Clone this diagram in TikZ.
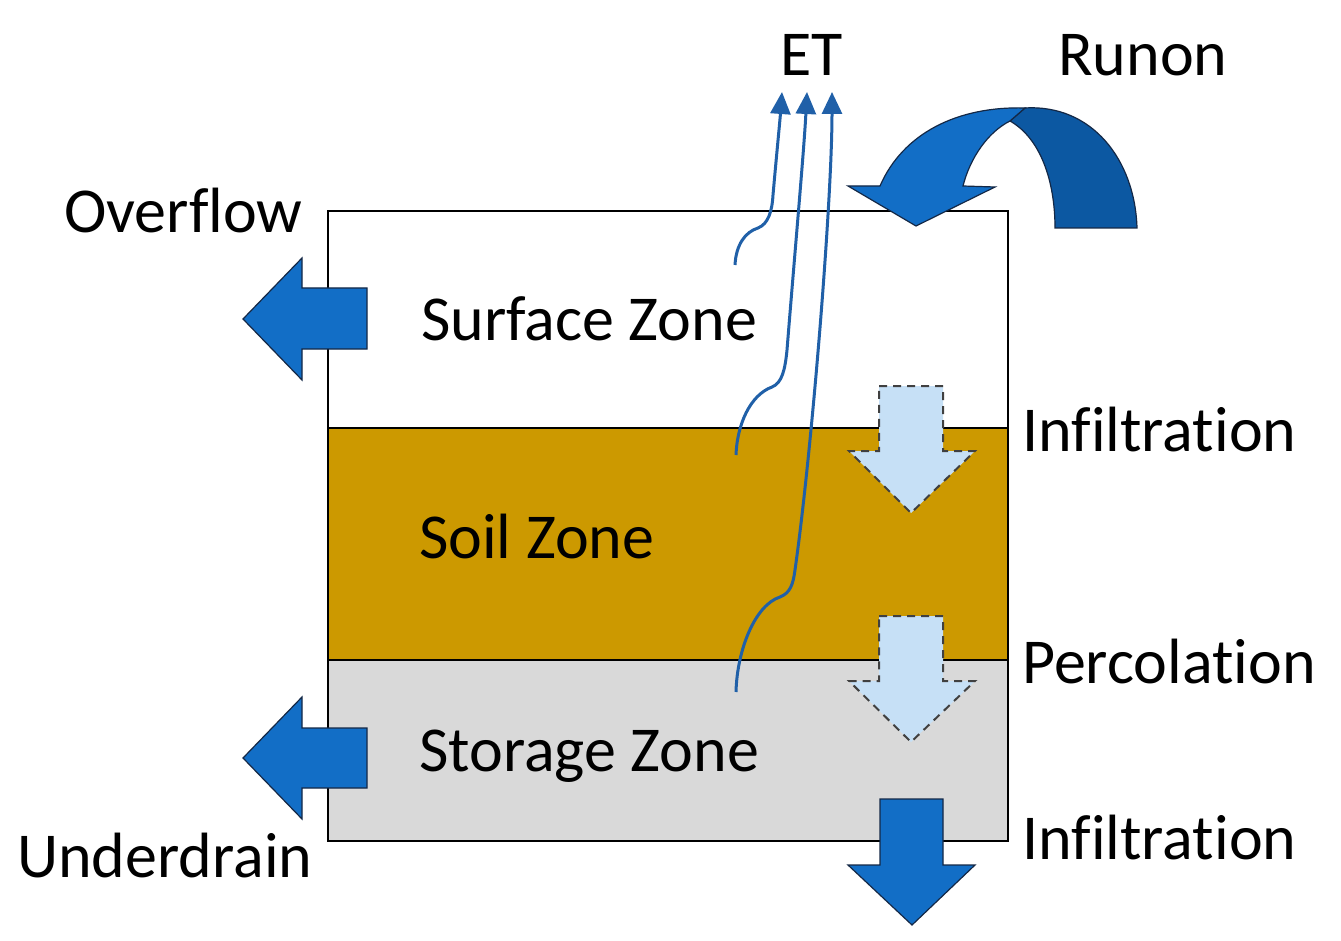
\documentclass[tikz,border=0pt]{standalone}
\usepackage{fontspec}
\setmainfont{Carlito}[Ligatures={NoCommon,NoRequired,NoContextual}]
\usetikzlibrary{arrows.meta}
\definecolor{soil}{RGB}{204,153,0}
\definecolor{store}{RGB}{217,217,217}
\definecolor{bluefill}{RGB}{18,110,198}
\definecolor{bluedark}{RGB}{12,88,162}
\definecolor{blueline}{RGB}{32,96,168}
\definecolor{lightblue}{RGB}{198,224,246}
\definecolor{outl}{RGB}{20,40,70}
\tikzset{
  lbl/.style={anchor=base west, inner sep=0pt, font=\fontsize{64}{77}\selectfont, text=black},
  zone/.style={draw=black, line width=1.6pt},
  bigarrow/.style={fill=bluefill, draw=outl, line width=1.2pt, line join=miter},
  dasharrow/.style={fill=lightblue, draw=black!75, line width=2pt, dash pattern=on 8pt off 6pt},
  etline/.style={draw=blueline, line width=3pt, -{Triangle[width=20pt,length=22pt]}}
}
\begin{document}
\begin{tikzpicture}[x=1pt,y=-1pt]
\useasboundingbox (0,0) rectangle (1341,941);
\fill[white] (0,0) rectangle (1341,941);
% zones
\fill[soil] (328,428) rectangle (1008,660);
\fill[store] (328,660) rectangle (1008,841);
\draw[zone] (328,211) rectangle (1008,841);
\draw[zone] (328,428) -- (1008,428);
\draw[zone] (328,660) -- (1008,660);
% labels
\node[lbl] (surf) at (421,341) {Surface Zone};
\node[lbl] (soilz) at (419,558) {Soil Zone};
\node[lbl] (stor) at (419,771) {Storage Zone};
\node[lbl] (et) at (780,76) {ET};
\node[lbl] (runon) at (1058,76) {Runon};
\node[lbl] (over) at (64,233) {Overflow};
\node[lbl] (inf1) at (1022,451) {Infiltration};
\node[lbl] (perc) at (1022,683) {Percolation};
\node[lbl] (inf2) at (1022,859) {Infiltration};
\node[lbl] (under) at (17,877) {Underdrain};
% dashed arrows
\draw[dasharrow] (879,386) -- (943,386) -- (943,451) -- (975,451) -- (911,513) -- (849,451) -- (879,451) -- cycle;
\draw[dasharrow] (879,616) -- (943,616) -- (943,681) -- (975,681) -- (911,742) -- (849,681) -- (879,681) -- cycle;
% solid arrows
\draw[bigarrow] (243,319) -- (302,258) -- (302,288) -- (367,288) -- (367,349) -- (302,349) -- (302,380) -- cycle;
\draw[bigarrow] (243,758) -- (302,697) -- (302,728) -- (367,728) -- (367,788) -- (302,788) -- (302,819) -- cycle;
\draw[bigarrow] (880,799) -- (943,799) -- (943,865) -- (975,865) -- (912,925) -- (848,865) -- (880,865) -- cycle;
% runon curved arrow
\draw[bigarrow, fill=bluedark] (1025,108) .. controls (1092,104) and (1135,160) .. (1137,228)
  -- (1055,228) .. controls (1055,180) and (1040,138) .. (1010,121) -- cycle;
\draw[bigarrow] (880,186) .. controls (903,133) and (958,106) .. (1025,108)
  -- (1010,121) .. controls (988,132) and (970,158) .. (963,186)
  -- (995,187) -- (916,226) -- (848,186) -- cycle;
% ET lines
\coordinate (e1s) at (735,265);
\coordinate (e2s) at (736,455);
\coordinate (e3s) at (736,692);
\coordinate (e1t) at (782,92);
\coordinate (e2t) at (807,92);
\coordinate (e3t) at (832,92);
\draw[etline] (e1s) .. controls (736,245) and (745,232) .. (758,228) .. controls (768,224) and (772,212) .. (773,195) .. controls (777,150) and (780,120) .. (e1t);
\draw[etline] (e2s) .. controls (737,425) and (750,395) .. (772,387) .. controls (782,383) and (785,370) .. (787,350) .. controls (795,250) and (804,150) .. (e2t);
\draw[etline] (e3s) .. controls (737,650) and (755,605) .. (780,597) .. controls (790,593) and (793,585) .. (795,570) .. controls (812,450) and (832,200) .. (e3t);
\end{tikzpicture}
\end{document}
